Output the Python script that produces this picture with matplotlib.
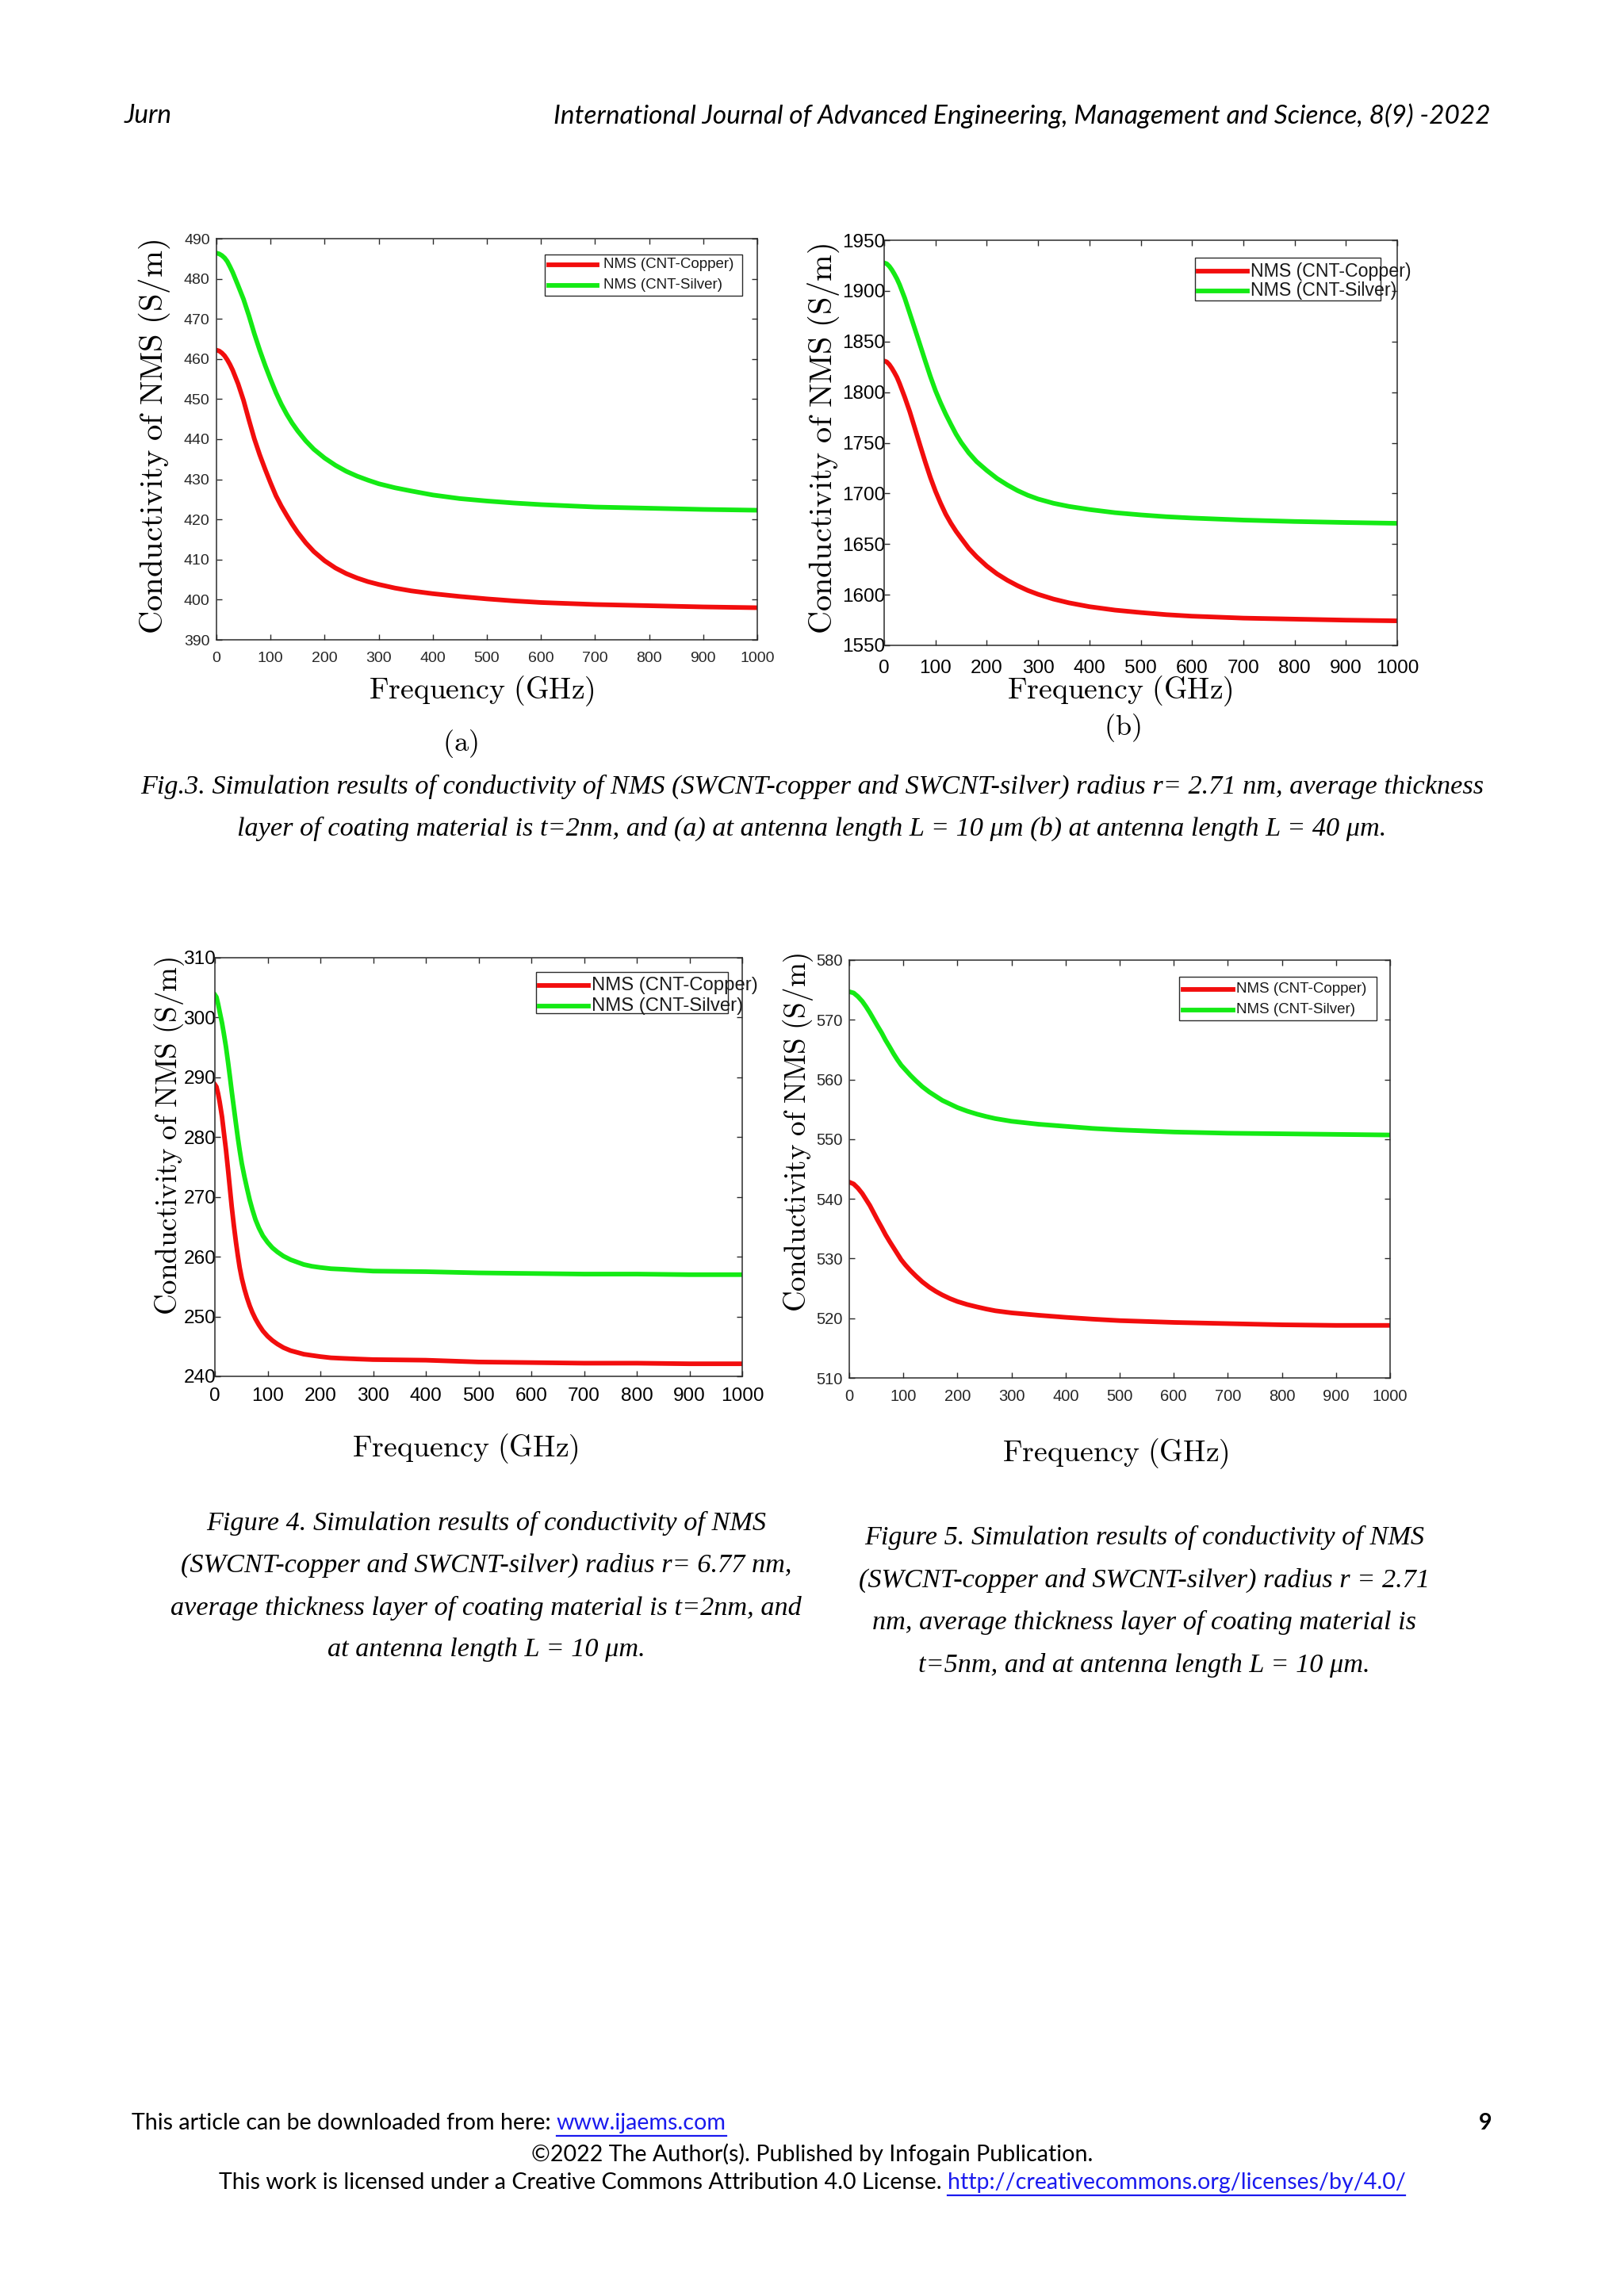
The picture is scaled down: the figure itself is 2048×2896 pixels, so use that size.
import matplotlib
matplotlib.use('Agg')
import matplotlib.pyplot as plt
from matplotlib.patches import Rectangle
from matplotlib.lines import Line2D

W, H = 2048, 2896
DPI = 100
plt.rcParams['mathtext.fontset'] = 'cm'

# ---------------- data ----------------
series_labels = ['NMS (CNT-Copper)', 'NMS (CNT-Silver)']
x_ticks = [0, 100, 200, 300, 400, 500, 600, 700, 800, 900, 1000]

freq_ab = [0, 5, 10, 15, 20, 25, 30, 40, 50, 60, 70, 80, 90, 100, 110, 120, 130, 140, 150,
           165, 180, 200, 220, 240, 260, 280, 300, 330, 360, 400, 450, 500, 550, 600, 700,
           800, 900, 1000]

copper_a = [462.2, 462.0, 461.5, 460.8, 459.8, 458.6, 457.2, 453.8, 449.7, 444.8, 440.1,
            436.1, 432.5, 429.1, 425.9, 423.3, 421.0, 418.8, 416.8, 414.2, 412.0, 409.7,
            407.9, 406.5, 405.4, 404.5, 403.8, 402.9, 402.2, 401.5, 400.8, 400.2, 399.7,
            399.3, 398.8, 398.5, 398.2, 398.0]
silver_a = [486.4, 486.2, 485.8, 485.2, 484.3, 483.0, 481.6, 478.3, 474.9, 470.8, 466.3,
            462.2, 458.4, 454.9, 451.6, 448.7, 446.2, 444.0, 442.1, 439.6, 437.5, 435.3,
            433.5, 432.0, 430.8, 429.8, 428.9, 427.9, 427.1, 426.1, 425.2, 424.6, 424.1,
            423.7, 423.1, 422.8, 422.5, 422.3]
yticks_a = [390, 400, 410, 420, 430, 440, 450, 460, 470, 480, 490]

copper_b = [1830.8, 1829.9, 1827.3, 1823.6, 1819.3, 1814.6, 1808.6, 1795.2, 1780.6, 1764.1,
            1747.5, 1731.2, 1715.9, 1702.2, 1690.3, 1679.5, 1670.6, 1662.7, 1655.8, 1645.7,
            1637.6, 1628.3, 1620.6, 1614.3, 1608.9, 1604.2, 1600.4, 1595.7, 1592.0, 1588.2,
            1584.8, 1582.4, 1580.3, 1578.8, 1576.9, 1575.9, 1574.9, 1574.2]
silver_b = [1927.6, 1926.8, 1924.3, 1920.8, 1916.5, 1911.8, 1906.2, 1893.0, 1877.7, 1862.2,
            1846.6, 1830.9, 1815.6, 1801.5, 1789.4, 1778.3, 1768.3, 1758.6, 1750.4, 1740.0,
            1731.5, 1722.7, 1714.8, 1708.4, 1702.8, 1698.2, 1694.5, 1690.3, 1687.2, 1684.1,
            1681.0, 1678.8, 1677.0, 1675.7, 1673.7, 1672.3, 1671.3, 1670.5]
yticks_b = [1550, 1600, 1650, 1700, 1750, 1800, 1850, 1900, 1950]

freq_c = [0, 3, 6, 9, 13.5, 17, 21, 25, 28.5, 32, 36, 40, 43.5, 47, 51, 56, 61, 66, 71, 77,
          83.5, 91, 100, 109, 118.5, 130, 143.5, 156, 168.5, 184, 200, 220, 243.5, 270, 300,
          350, 400, 500, 600, 700, 800, 900, 1000]
copper_c = [288.8, 288.4, 287.3, 285.9, 283.4, 280.8, 277.9, 274.5, 271.4, 268.3, 265.2,
            262.4, 260.2, 258.2, 256.4, 254.6, 253.1, 251.8, 250.7, 249.6, 248.6, 247.6,
            246.7, 246.0, 245.4, 244.8, 244.3, 244.0, 243.7, 243.5, 243.3, 243.1, 243.0,
            242.9, 242.8, 242.75, 242.7, 242.4, 242.3, 242.2, 242.2, 242.1, 242.1]
silver_c = [303.8, 303.4, 302.3, 301.0, 299.1, 297.3, 295.1, 292.5, 290.1, 287.6, 284.9,
            282.2, 279.9, 277.8, 275.6, 273.4, 271.4, 269.5, 267.9, 266.2, 264.8, 263.5,
            262.4, 261.5, 260.8, 260.1, 259.5, 259.1, 258.7, 258.4, 258.2, 258.0, 257.9,
            257.75, 257.6, 257.55, 257.5, 257.3, 257.2, 257.1, 257.1, 257.0, 257.0]
yticks_c = [240, 250, 260, 270, 280, 290, 300, 310]

freq_d = [0, 8, 16, 24, 31, 38, 45, 52, 60, 67, 75, 82, 89, 96, 104, 113, 123, 135, 148,
          160, 172, 186, 200, 218, 236, 253, 270, 300, 350, 400, 450, 500, 600, 700, 800,
          900, 1000]
copper_d = [542.8, 542.5, 541.8, 540.9, 539.9, 538.9, 537.7, 536.5, 535.2, 534.0, 532.8,
            531.8, 530.8, 529.8, 528.9, 528.0, 527.1, 526.1, 525.2, 524.5, 523.9, 523.3,
            522.8, 522.3, 521.9, 521.55, 521.25, 520.9, 520.5, 520.15, 519.85, 519.6,
            519.3, 519.1, 518.9, 518.8, 518.8]
silver_d = [574.7, 574.5, 573.9, 573.1, 572.2, 571.2, 570.1, 569.0, 567.8, 566.6, 565.4,
            564.3, 563.3, 562.4, 561.6, 560.7, 559.8, 558.8, 557.9, 557.2, 556.5, 555.9,
            555.3, 554.7, 554.2, 553.8, 553.45, 553.0, 552.5, 552.15, 551.8, 551.55,
            551.2, 551.0, 550.9, 550.8, 550.7]
yticks_d = [510, 520, 530, 540, 550, 560, 570, 580]

xlabel = r'$\mathrm{Frequency\ (GHz)}$'
ylabel = r'$\mathrm{Conductivity\ of\ NMS\ (S/m)}$'

header_left = 'Jurn'
header_right = 'International Journal of Advanced Engineering, Management and Science, 8(9) -2022'
cap3 = ['Fig.3. Simulation results of conductivity of NMS (SWCNT-copper and SWCNT-silver) radius r= 2.71 nm, average thickness',
        'layer of coating material is t=2nm, and (a) at antenna length L = 10 \u03bcm (b) at antenna length L = 40 \u03bcm.']
cap4 = ['Figure 4. Simulation results of conductivity of NMS',
        '(SWCNT-copper and SWCNT-silver) radius r= 6.77 nm,',
        'average thickness layer of coating material is t=2nm, and',
        'at antenna length L = 10 \u03bcm.']
cap5 = ['Figure 5. Simulation results of conductivity of NMS',
        '(SWCNT-copper and SWCNT-silver) radius r = 2.71',
        'nm, average thickness layer of coating material is',
        't=5nm, and at antenna length L = 10 \u03bcm.']

RED = '#f20d0d'
GREEN = '#14ea14'
FRAME = '#2b2b2b'

fig = plt.figure(figsize=(W / DPI, H / DPI), dpi=DPI)
fig.patch.set_facecolor('white')
renderer = fig.canvas.get_renderer()


def fx(px):
    return px / W


def fy(py):
    return 1 - py / H


panels = [
    dict(rect=(273, 301, 955, 807), f=freq_ab, cu=copper_a, ag=silver_a, yt=yticks_a,
         tfs=14, tcol='#262626', xpad=11, ypad=6, ylfs=29.3, xlfs=27.2,
         ylxy=(-0.115, 0.506), xlxy=(0.491, -0.128),
         box=(687, 321, 936, 373), lx=(692, 753), ly=(334, 360), tx=761, lfs=13.5),
    dict(rect=(1115, 303, 1762, 814), f=freq_ab, cu=copper_b, ag=silver_b, yt=yticks_b,
         tfs=17.5, tcol='black', xpad=13, ypad=-1, ylfs=29.0, xlfs=27.2,
         ylxy=(-0.117, 0.509), xlxy=(0.46, -0.113),
         box=(1507, 325, 1741, 379), lx=(1511, 1573), ly=(342, 367), tx=1577, lfs=16.7),
    dict(rect=(271, 1208, 936, 1736), f=freq_c, cu=copper_c, ag=silver_c, yt=yticks_c,
         tfs=17.6, tcol='black', xpad=10, ypad=-1, ylfs=26.6, xlfs=27.3,
         ylxy=(-0.086, 0.574), xlxy=(0.475, -0.174),
         box=(676, 1226, 918, 1278), lx=(680, 742), ly=(1243, 1269), tx=746, lfs=17.2),
    dict(rect=(1071, 1211, 1753, 1738), f=freq_d, cu=copper_d, ag=silver_d, yt=yticks_d,
         tfs=14.5, tcol='#262626', xpad=10, ypad=6, ylfs=26.7, xlfs=27.3,
         ylxy=(-0.094, 0.588), xlxy=(0.493, -0.182),
         box=(1487, 1232, 1736, 1287), lx=(1492, 1555), ly=(1248, 1274), tx=1559, lfs=13.5),
]

for p in panels:
    l, t, r, b = p['rect']
    ax = fig.add_axes([fx(l), fy(b), (r - l) / W, (b - t) / H])
    ax.plot(p['f'], p['cu'], color=RED, lw=4.2, solid_joinstyle='round', label=series_labels[0])
    ax.plot(p['f'], p['ag'], color=GREEN, lw=4.2, solid_joinstyle='round', label=series_labels[1])
    ax.set_xlim(0, 1000)
    ax.set_ylim(p['yt'][0], p['yt'][-1])
    ax.set_xticks(x_ticks)
    ax.set_yticks(p['yt'])
    for s in ax.spines.values():
        s.set_color(FRAME)
        s.set_linewidth(1.1)
    ax.tick_params(direction='in', top=True, right=True, length=5, width=1.0, color=FRAME,
                   labelsize=p['tfs'], labelcolor=p['tcol'])
    ax.tick_params(axis='x', pad=p['xpad'])
    ax.tick_params(axis='y', pad=p['ypad'])
    for lab in ax.get_xticklabels() + ax.get_yticklabels():
        lab.set_family('Liberation Sans')
    ax.set_xlabel(xlabel, fontsize=p['xlfs'])
    ax.set_ylabel(ylabel, fontsize=p['ylfs'])
    ax.xaxis.label.set_va('center')
    ax.yaxis.label.set_va('center')
    ax.xaxis.set_label_coords(*p['xlxy'])
    ax.yaxis.set_label_coords(*p['ylxy'])

    # legend (box drawn separately, text may overflow as in the original)
    bl, bt, br, bb = p['box']
    fig.add_artist(Rectangle((fx(bl), fy(bb)), (br - bl) / W, (bb - bt) / H,
                             transform=fig.transFigure, facecolor='white',
                             edgecolor=FRAME, lw=1.0, zorder=5))
    for yy, col, lab in zip(p['ly'], [RED, GREEN], series_labels):
        fig.add_artist(Line2D([fx(p['lx'][0]), fx(p['lx'][1])], [fy(yy), fy(yy)],
                              transform=fig.transFigure, color=col, lw=4.2, zorder=6))
        fig.text(fx(p['tx']), fy(yy), lab, fontsize=p['lfs'], family='Liberation Sans',
                 color='#1a1a1a', va='center', ha='left', zorder=7)

# sub-figure letters
fig.text(fx(580), fy(938), r'$\mathrm{(a)}$', fontsize=26, ha='center', va='center')
fig.text(fx(1415), fy(918), r'$\mathrm{(b)}$', fontsize=26, ha='center', va='center')

# header
HFONT = 'Lato'
fig.text(fx(157), fy(146), header_left, fontsize=24, family=HFONT, style='italic',
         ha='left', va='center')
fig.text(fx(1880), fy(146), header_right, fontsize=24, family=HFONT, style='italic',
         ha='right', va='center')

# captions
CFONT = 'Liberation Serif'
CFS = 24.7
for s, yy in zip(cap3, [992, 1045]):
    fig.text(fx(1024), fy(yy), s, fontsize=CFS, family=CFONT, style='italic',
             ha='center', va='center')
for s, yy in zip(cap4, [1921, 1974, 2028, 2081]):
    fig.text(fx(613), fy(yy), s, fontsize=CFS, family=CFONT, style='italic',
             ha='center', va='center')
for s, yy in zip(cap5, [1939, 1993, 2046, 2100]):
    fig.text(fx(1443), fy(yy), s, fontsize=CFS, family=CFONT, style='italic',
             ha='center', va='center')


# footer with links
def text_width(s, fs, family):
    t = fig.text(0, 0, s, fontsize=fs, family=family)
    w = t.get_window_extent(renderer).width
    t.remove()
    return w


def runs_line(x_px, y_px, runs, fs, family, ha='left'):
    sp = text_width('a a', fs, family) - text_width('aa', fs, family)
    widths = []
    for s, _, _ in runs:
        core = s.strip()
        w = text_width(core, fs, family)
        w += sp * (len(s) - len(s.lstrip())) + sp * (len(s) - len(s.rstrip()))
        widths.append(w)
    total = sum(widths)
    x = x_px - total / 2 if ha == 'center' else x_px
    for (s, col, ul), w in zip(runs, widths):
        lead = sp * (len(s) - len(s.lstrip()))
        core = s.strip()
        cw = text_width(core, fs, family)
        fig.text(fx(x + lead), fy(y_px), core, fontsize=fs, family=family, color=col,
                 ha='left', va='center')
        if ul:
            uy = y_px + fs * DPI / 72 * 0.55
            fig.add_artist(Line2D([fx(x + lead), fx(x + lead + cw)], [fy(uy), fy(uy)],
                                  transform=fig.transFigure, color=col, lw=1.6))
        x += w


FFONT = 'Lato'
FFS = 20.6
LINK = '#1a1aee'
runs_line(166, 2678, [('This article can be downloaded from here: ', 'black', False),
                      ('www.ijaems.com', LINK, True)], FFS, FFONT)
fig.text(fx(1882), fy(2678), '9', fontsize=FFS, family=FFONT, weight='bold',
         ha='right', va='center')
fig.text(fx(1024), fy(2717), '\u00a92022 The Author(s). Published by Infogain Publication.',
         fontsize=FFS, family=FFONT, ha='center', va='center')
runs_line(1024, 2753, [('This work is licensed under a Creative Commons Attribution 4.0 License. ', 'black', False),
                       ('http://creativecommons.org/licenses/by/4.0/', LINK, True)], FFS, FFONT,
          ha='center')

fig.savefig('out.png', dpi=DPI, facecolor='white')
